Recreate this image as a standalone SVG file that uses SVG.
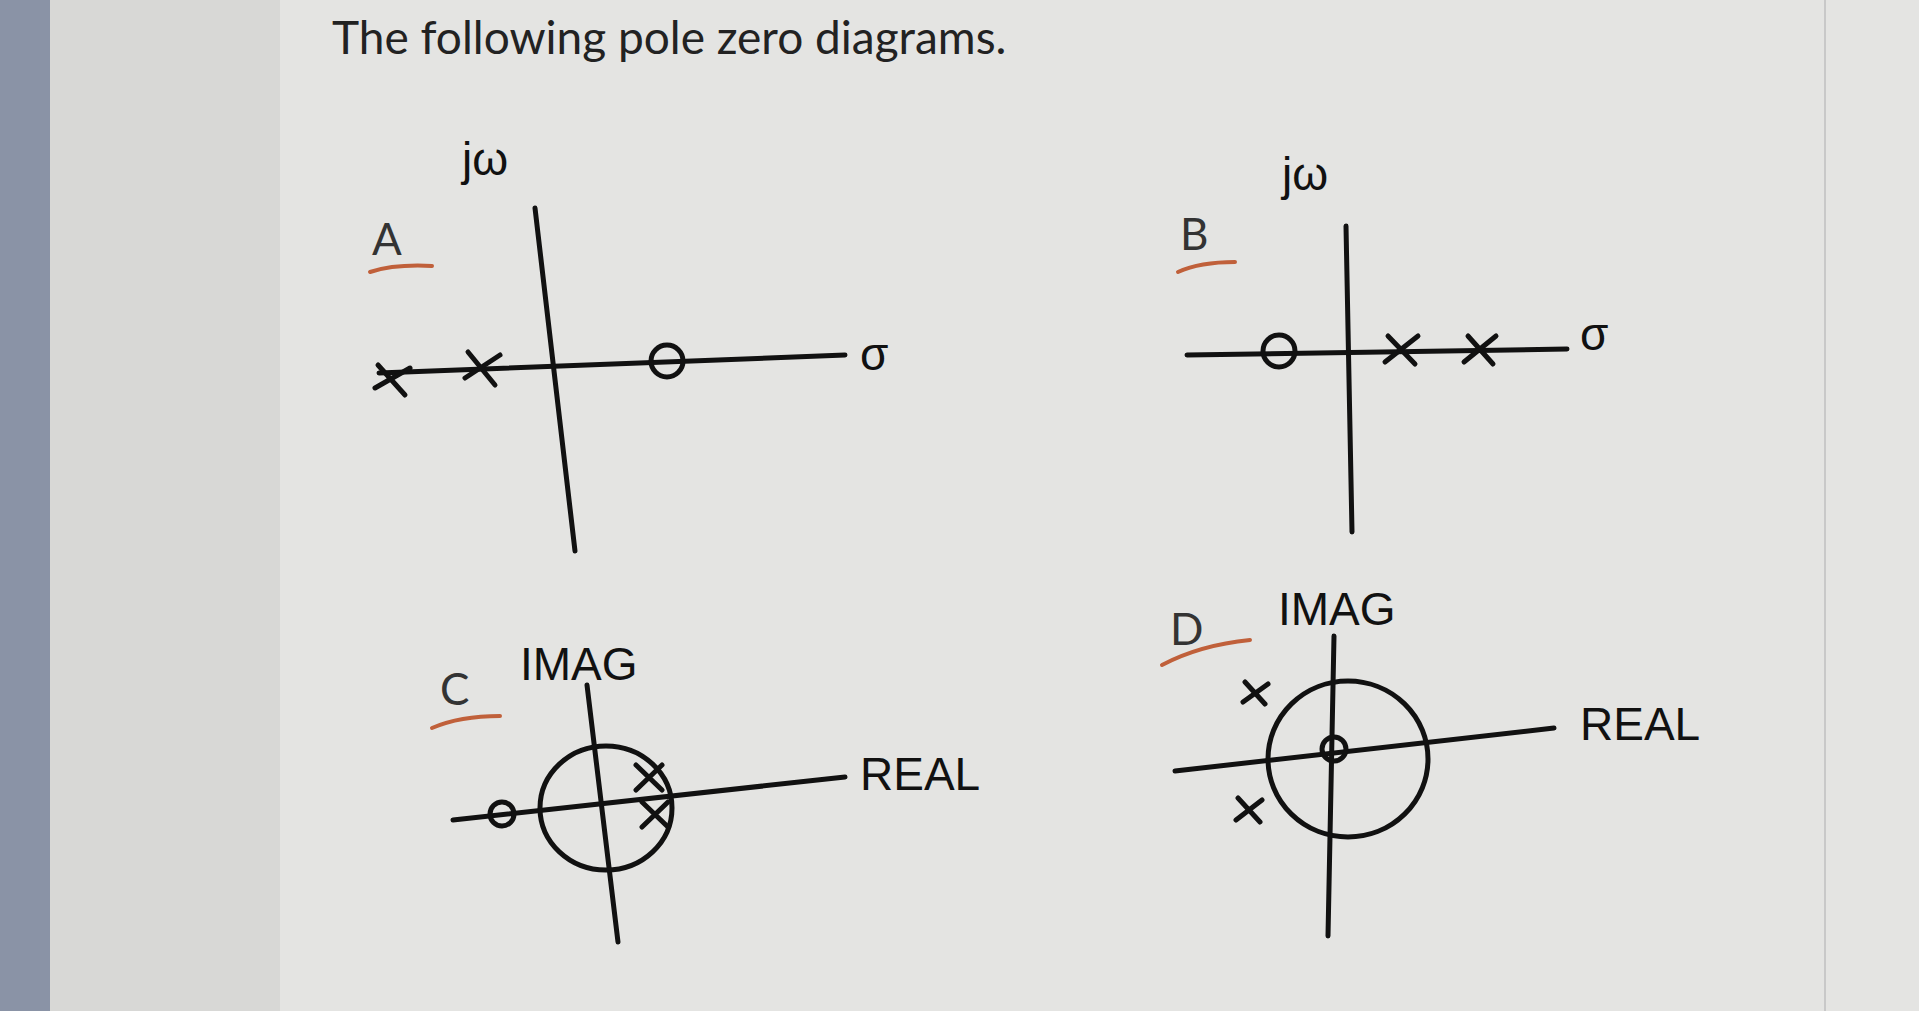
<svg xmlns="http://www.w3.org/2000/svg" width="1919" height="1011" viewBox="0 0 1919 1011">
<style>
.ln{stroke:#111;stroke-width:5;fill:none;stroke-linecap:round}
.hw{font-family:"Liberation Sans",sans-serif;font-size:46px;fill:#111}
.lb{font-family:"Lato","Liberation Sans",sans-serif;font-size:44px;fill:#333}
.ul{stroke:#c0603a;stroke-width:4;fill:none;stroke-linecap:round}
</style>
<rect width="1919" height="1011" fill="#e4e4e2"/>
<rect x="0" y="0" width="50" height="1011" fill="#8a93a6"/>
<rect x="50" y="0" width="230" height="1011" fill="#d8d8d6"/>
<line x1="1825" y1="0" x2="1825" y2="1011" stroke="#c8c8c8" stroke-width="2"/>
<text x="332" y="54" font-family="Lato, 'Liberation Sans', sans-serif" font-size="46" fill="#222">The following pole zero diagrams.</text>
<g id="A">
<text class="lb" x="372" y="255">A</text><path class="ul" d="M370 272 Q395 264 432 266"/>
<text class="hw" x="462" y="175">jω</text>
<path class="ln" d="M535 208 L575 551"/><path class="ln" d="M379 373 L845 355"/>
<path class="ln" d="M378 365 L405 395 M375 388 L410 368 M468 352 L495 385 M465 378 L500 355"/>
<circle class="ln" cx="667" cy="361" r="16"/>
<text class="hw" x="860" y="370">σ</text>
</g>
<g id="B">
<text class="lb" x="1180" y="250">B</text><path class="ul" d="M1178 272 Q1200 262 1235 262"/>
<text class="hw" x="1282" y="190">jω</text>
<path class="ln" d="M1346 226 L1352 532"/><path class="ln" d="M1187 355 L1567 349"/>
<circle class="ln" cx="1279" cy="351" r="16"/>
<path class="ln" d="M1388 336 L1415 364 M1385 362 L1418 336 M1468 336 L1493 364 M1464 362 L1496 336"/>
<text class="hw" x="1580" y="350">σ</text>
</g>
<g id="C">
<text class="lb" x="440" y="705">C</text><path class="ul" d="M432 728 Q460 716 500 716"/>
<text class="hw" x="520" y="680">IMAG</text>
<path class="ln" d="M587 685 L618 942"/><path class="ln" d="M453 820 L845 777"/>
<ellipse class="ln" cx="606" cy="808" rx="66" ry="62"/>
<circle class="ln" cx="502" cy="814" r="12"/>
<path class="ln" d="M636 765 L662 790 M636 790 L662 765 M642 802 L668 827 M642 827 L668 802"/>
<text class="hw" x="860" y="790">REAL</text>
</g>
<g id="D">
<text class="lb" x="1170" y="645">D</text><path class="ul" d="M1162 665 Q1200 645 1250 640"/>
<text class="hw" x="1278" y="625">IMAG</text>
<path class="ln" d="M1334 636 L1328 936"/><path class="ln" d="M1175 771 L1554 728"/>
<ellipse class="ln" cx="1348" cy="759" rx="80" ry="78"/>
<circle class="ln" cx="1334" cy="749" r="12"/>
<path class="ln" d="M1245 682 L1265 704 M1243 702 L1268 684 M1238 798 L1260 822 M1236 820 L1262 800"/>
<text class="hw" x="1580" y="740">REAL</text>
</g>
</svg>
